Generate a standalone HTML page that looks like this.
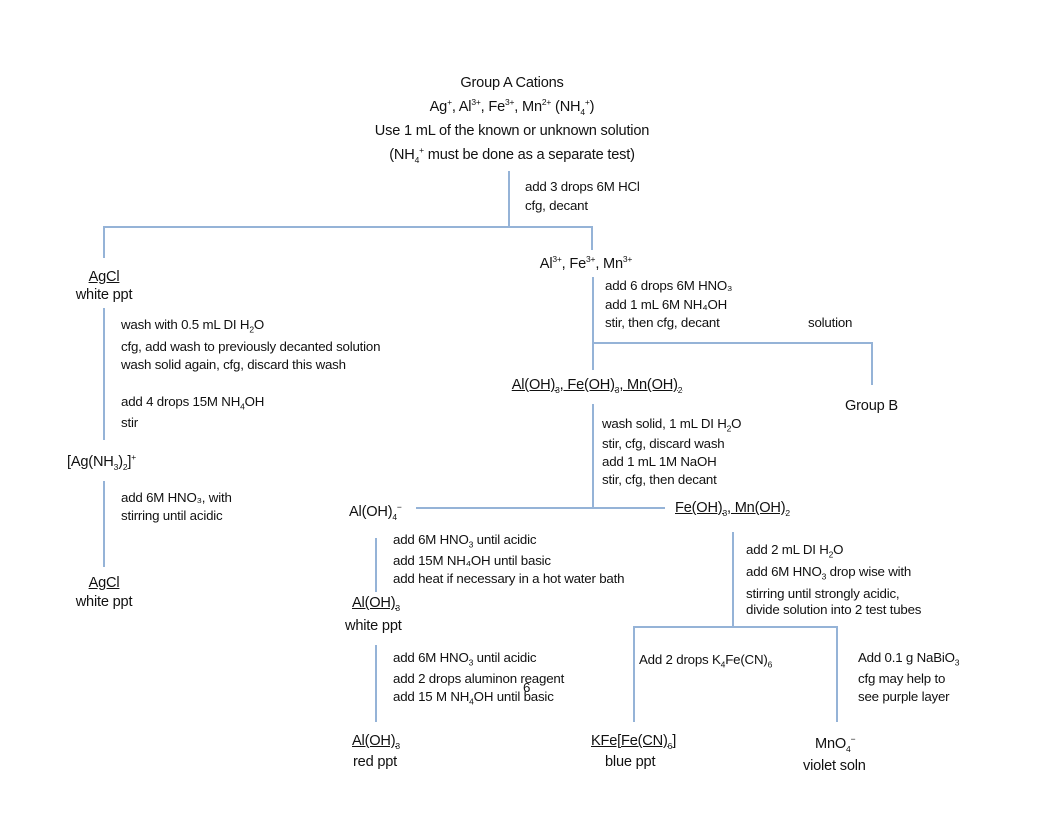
<!DOCTYPE html>
<html><head><meta charset="utf-8"><style>
body{margin:0;width:1057px;height:814px;background:#fff;position:relative;overflow:hidden;font-family:"Liberation Sans",sans-serif;color:#111}
.t{position:absolute;font-size:13.3px;line-height:16px;white-space:nowrap;letter-spacing:-0.2px}
.b{font-size:14.6px}
.c{transform:translateX(-50%)}
.u{text-decoration:underline}
sub,sup{font-size:8.5px;line-height:0}
.l{position:absolute;background:#95b3d7}
</style></head><body>
<div class="l" style="left:508px;top:171px;width:2px;height:57px"></div>
<div class="l" style="left:103px;top:226px;width:490px;height:2px"></div>
<div class="l" style="left:103px;top:226px;width:2px;height:32px"></div>
<div class="l" style="left:591px;top:226px;width:2px;height:24px"></div>
<div class="l" style="left:103px;top:308px;width:2px;height:132px"></div>
<div class="l" style="left:103px;top:481px;width:2px;height:86px"></div>
<div class="l" style="left:592px;top:277px;width:2px;height:93px"></div>
<div class="l" style="left:592px;top:342px;width:281px;height:2px"></div>
<div class="l" style="left:871px;top:342px;width:2px;height:43px"></div>
<div class="l" style="left:592px;top:404px;width:2px;height:104px"></div>
<div class="l" style="left:416px;top:507px;width:249px;height:2px"></div>
<div class="l" style="left:375px;top:538px;width:2px;height:54px"></div>
<div class="l" style="left:375px;top:645px;width:2px;height:77px"></div>
<div class="l" style="left:732px;top:532px;width:2px;height:96px"></div>
<div class="l" style="left:633px;top:626px;width:205px;height:2px"></div>
<div class="l" style="left:633px;top:626px;width:2px;height:96px"></div>
<div class="l" style="left:836px;top:626px;width:2px;height:96px"></div>

<div class="t b c" style="left:512px;top:75px">Group A Cations</div>
<div class="t b c" style="left:512px;top:99px">Ag<sup>+</sup>, Al<sup>3+</sup>, Fe<sup>3+</sup>, Mn<sup>2+</sup> (NH<sub>4</sub><sup>+</sup>)</div>
<div class="t b c" style="left:512px;top:123px">Use 1 mL of the known or unknown solution</div>
<div class="t b c" style="left:512px;top:147px">(NH<sub>4</sub><sup>+</sup> must be done as a separate test)</div>
<div class="t" style="left:525px;top:179px">add 3 drops 6M HCl</div>
<div class="t" style="left:525px;top:198px">cfg, decant</div>

<div class="t b c u" style="left:104px;top:269px">AgCl</div>
<div class="t b c" style="left:104px;top:287px">white ppt</div>
<div class="t" style="left:121px;top:317px">wash with 0.5 mL DI H<sub>2</sub>O</div>
<div class="t" style="left:121px;top:339px">cfg, add wash to previously decanted solution</div>
<div class="t" style="left:121px;top:357px">wash solid again, cfg, discard this wash</div>
<div class="t" style="left:121px;top:394px">add 4 drops 15M NH<sub>4</sub>OH</div>
<div class="t" style="left:121px;top:415px">stir</div>
<div class="t b" style="left:67px;top:454px">[Ag(NH<sub>3</sub>)<sub>2</sub>]<sup>+</sup></div>
<div class="t" style="left:121px;top:490px">add 6M HNO₃, with</div>
<div class="t" style="left:121px;top:508px">stirring until acidic</div>
<div class="t b c u" style="left:104px;top:575px">AgCl</div>
<div class="t b c" style="left:104px;top:594px">white ppt</div>

<div class="t b c" style="left:586px;top:256px">Al<sup>3+</sup>, Fe<sup>3+</sup>, Mn<sup>3+</sup></div>
<div class="t" style="left:605px;top:278px">add 6 drops 6M HNO₃</div>
<div class="t" style="left:605px;top:297px">add 1 mL 6M NH₄OH</div>
<div class="t" style="left:605px;top:315px">stir, then cfg, decant</div>
<div class="t" style="left:808px;top:315px">solution</div>
<div class="t b c u" style="left:597px;top:377px">Al(OH)<sub>3</sub>, Fe(OH)<sub>3</sub>, Mn(OH)<sub>2</sub></div>
<div class="t b" style="left:845px;top:398px">Group B</div>
<div class="t" style="left:602px;top:416px">wash solid, 1 mL DI H<sub>2</sub>O</div>
<div class="t" style="left:602px;top:436px">stir, cfg, discard wash</div>
<div class="t" style="left:602px;top:454px">add 1 mL 1M NaOH</div>
<div class="t" style="left:602px;top:472px">stir, cfg, then decant</div>

<div class="t b" style="left:349px;top:504px">Al(OH)<sub>4</sub><sup>&#8722;</sup></div>
<div class="t b u" style="left:675px;top:500px">Fe(OH)<sub>3</sub>, Mn(OH)<sub>2</sub></div>
<div class="t" style="left:393px;top:532px">add 6M HNO<sub>3</sub> until acidic</div>
<div class="t" style="left:393px;top:553px">add 15M NH₄OH until basic</div>
<div class="t" style="left:393px;top:571px">add heat if necessary in a hot water bath</div>
<div class="t b u" style="left:352px;top:595px">Al(OH)<sub>3</sub></div>
<div class="t b" style="left:345px;top:618px">white ppt</div>
<div class="t" style="left:746px;top:542px">add 2 mL DI H<sub>2</sub>O</div>
<div class="t" style="left:746px;top:564px">add 6M HNO<sub>3</sub> drop wise with</div>
<div class="t" style="left:746px;top:586px">stirring until strongly acidic,</div>
<div class="t" style="left:746px;top:602px">divide solution into 2 test tubes</div>

<div class="t" style="left:393px;top:650px">add 6M HNO<sub>3</sub> until acidic</div>
<div class="t" style="left:393px;top:671px">add 2 drops aluminon reagent</div>
<div class="t" style="left:393px;top:689px">add 15 M NH<sub>4</sub>OH until basic</div>
<div class="t" style="left:523px;top:680px">6</div>
<div class="t" style="left:639px;top:652px">Add 2 drops K<sub>4</sub>Fe(CN)<sub>6</sub></div>
<div class="t" style="left:858px;top:650px">Add 0.1 g NaBiO<sub>3</sub></div>
<div class="t" style="left:858px;top:671px">cfg may help to</div>
<div class="t" style="left:858px;top:689px">see purple layer</div>
<div class="t b u" style="left:352px;top:733px">Al(OH)<sub>3</sub></div>
<div class="t b" style="left:353px;top:754px">red ppt</div>
<div class="t b u" style="left:591px;top:733px">KFe[Fe(CN)<sub>6</sub>]</div>
<div class="t b" style="left:605px;top:754px">blue ppt</div>
<div class="t b" style="left:815px;top:736px">MnO<sub>4</sub><sup>&#8722;</sup></div>
<div class="t b" style="left:803px;top:758px">violet soln</div>
</body></html>
